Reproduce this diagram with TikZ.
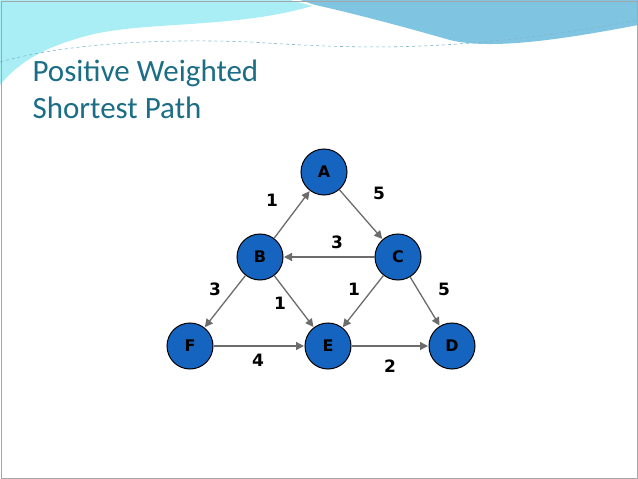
\documentclass[tikz,border=0pt]{standalone}
\usepackage{fontspec}
\setmainfont{Carlito}
\newfontfamily\lblfont{DejaVu Sans}
\usetikzlibrary{arrows.meta}
\definecolor{nodeblue}{HTML}{1565C0}
\definecolor{titlecol}{HTML}{1B6E86}
\definecolor{wave1}{HTML}{A8EEF4}
\definecolor{wave2}{HTML}{7FC4E0}
\begin{document}
\begin{tikzpicture}[x=1pt,y=-1pt,
  vtx/.style={circle,draw=black,line width=1pt,fill=nodeblue,minimum size=46pt,inner sep=0pt,font=\lblfont\bfseries\fontsize{16}{16}\selectfont},
  edge/.style={draw=gray!85!black,line width=1.3pt,-{Triangle[length=8pt,width=8pt]},shorten >=0.5pt},
  wlab/.style={font=\lblfont\bfseries\fontsize{17}{17}\selectfont}]
\useasboundingbox (0,0) rectangle (638,479);
\fill[white] (0,0) rectangle (638,479);
% top decoration
\fill[wave1] (0,0) -- (330,0) .. controls (250,30) and (150,20) .. (90,35) .. controls (50,45) and (20,60) .. (0,85) -- cycle;
\fill[wave2] (290,0) -- (638,0) -- (638,25) .. controls (560,40) and (490,50) .. (450,40) .. controls (380,20) and (320,5) .. (290,0) -- cycle;
\fill[white] (290,0) .. controls (330,10) and (380,25) .. (460,45) .. controls (380,30) and (330,10) .. (300,0) -- cycle;
\draw[wave2!80!gray,dashed,line width=0.6pt] (0,62) .. controls (60,45) and (150,38) .. (250,42) .. controls (350,48) and (450,55) .. (638,20);
\draw[gray!70,line width=0.8pt] (1,1) rectangle (637,478);
% title
\node[anchor=west,text=titlecol,font=\fontsize{31}{31}\selectfont] (t1) at (29,73) {Positive Weighted};
\node[anchor=west,text=titlecol,font=\fontsize{31}{31}\selectfont] (t2) at (29,108) {Shortest Path};
% graph
\node[vtx] (A) at (324,172) {A};
\node[vtx] (B) at (260,257) {B};
\node[vtx] (C) at (398,257) {C};
\node[vtx] (F) at (190,346) {F};
\node[vtx] (E) at (328,346) {E};
\node[vtx] (D) at (452,346) {D};
\draw[edge] (B) -- (A);
\draw[edge] (A) -- (C);
\draw[edge] (C) -- (B);
\draw[edge] (B) -- (F);
\draw[edge] (B) -- (E);
\draw[edge] (C) -- (E);
\draw[edge] (C) -- (D);
\draw[edge] (F) -- (E);
\draw[edge] (E) -- (D);
\node[wlab] (w1) at (272,200) {1};
\node[wlab] (w2) at (379,193) {5};
\node[wlab] (w3) at (337,242) {3};
\node[wlab] (w4) at (215,289) {3};
\node[wlab] (w5) at (280,303) {1};
\node[wlab] (w6) at (354,289) {1};
\node[wlab] (w7) at (444,289) {5};
\node[wlab] (w8) at (258,360) {4};
\node[wlab] (w9) at (390,366) {2};
\end{tikzpicture}
\end{document}
